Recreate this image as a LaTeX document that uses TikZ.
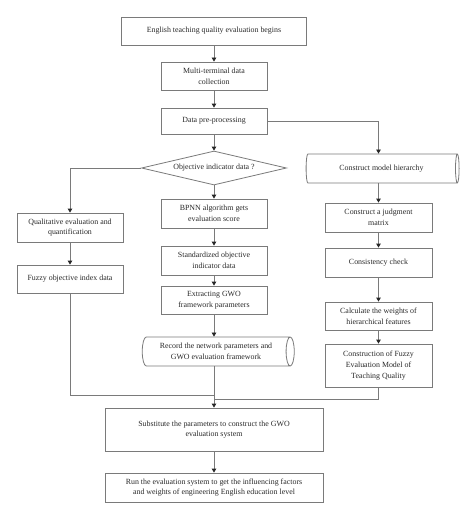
\documentclass[tikz,border=0pt]{standalone}
\usepackage{fontspec}
\setmainfont{Liberation Serif}
\usetikzlibrary{shapes.geometric,arrows.meta}
\definecolor{linec}{HTML}{7A7A7A}
\definecolor{txtc}{HTML}{2A2A2A}
\begin{document}
\begin{tikzpicture}[x=1pt,y=-1pt,
  txt/.style={text=txtc, align=center, font=\fontsize{7.9}{10.7}\selectfont},
  box/.style={txt, draw=linec, line width=0.8pt, rectangle, inner sep=0pt},
  cyl/.style={txt, cylinder, shape border rotate=0, draw=linec, line width=0.8pt, aspect=0.5, inner sep=0pt, minimum width=29pt},
  dia/.style={txt, diamond, draw=linec, line width=0.8pt, inner sep=0pt, aspect=4.2, minimum width=145pt, minimum height=34pt},
  conn/.style={draw=linec, line width=0.8pt},
  arr/.style={conn, -{Triangle[length=4pt,width=4.5pt,color=black!85]}}]
\useasboundingbox (0,0) rectangle (474,519);
\fill[white] (0,0) rectangle (474,519);

\node[box, minimum width=185pt, minimum height=28pt] (b1) at (214,31) {English teaching quality evaluation begins};
\node[box, minimum width=106pt, minimum height=28pt] (b2) at (214,76) {Multi-terminal data\\collection};
\node[box, minimum width=106pt, minimum height=26pt] (b3) at (214,121) {Data pre-processing};
\node[dia] (d) at (214,168) {Objective indicator data ?};
\node[cyl, minimum height=153pt] (c1) at (381.5,168.5) {Construct model hierarchy};
\node[box, minimum width=106pt, minimum height=29pt] (q) at (70,227.5) {Qualitative evaluation and\\quantification};
\node[box, minimum width=106pt, minimum height=29pt] (bp) at (214,213.5) {BPNN algorithm gets\\evaluation score};
\node[box, minimum width=107pt, minimum height=29pt] (jm) at (378.5,217.5) {Construct a judgment\\matrix};
\node[box, minimum width=106pt, minimum height=29pt] (st) at (214,260.5) {Standardized objective\\indicator data};
\node[box, minimum width=107pt, minimum height=29pt] (cc) at (378.5,262.5) {Consistency check};
\node[box, minimum width=106pt, minimum height=28pt] (fz) at (70,279) {Fuzzy objective index data};
\node[box, minimum width=106pt, minimum height=28pt] (ex) at (214,300) {Extracting GWO\\framework parameters};
\node[box, minimum width=107pt, minimum height=28pt] (cw) at (378.5,316) {Calculate the weights of\\hierarchical features};
\node[cyl, minimum height=152pt] (rec) at (216,351.5) {Record the network parameters and\\GWO evaluation framework};
\node[box, minimum width=107pt, minimum height=43pt] (cf) at (378.5,365.5) {Construction of Fuzzy\\Evaluation Model of\\Teaching Quality};
\node[box, minimum width=218pt, minimum height=43pt] (sub) at (214,429.5) {Substitute the parameters to construct the GWO\\evaluation system};
\node[box, minimum width=218pt, minimum height=29pt] (run) at (214,487.5) {Run the evaluation system to get the influencing factors\\and weights of engineering English education level};

\coordinate (jl) at (214,395);
\coordinate (jr) at (214,399);

\draw[arr] (b1) -- (b2);
\draw[arr] (b2) -- (b3);
\draw[arr] (b3) -- (d);
\draw[arr] (b3.east) -| (jm.north |- c1.north);
\draw[arr] (d.west) -| (q.north);
\draw[arr] (d) -- (bp);
\draw[arr] (jm.north |- c1.south) -- (jm.north);
\draw[arr] (q) -- (fz);
\draw[arr] (bp) -- (st);
\draw[arr] (st) -- (ex);
\draw[arr] (ex.south) -- (ex.south |- rec.north);
\draw[arr] (jm) -- (cc);
\draw[arr] (cc) -- (cw);
\draw[arr] (cw) -- (cf);
\draw[conn] (fz.south) |- (jl);
\draw[conn] (cf.south) |- (jr);
\draw[arr] (ex.south |- rec.south) -- (sub.north);
\draw[arr] (sub) -- (run);
\end{tikzpicture}
\end{document}
